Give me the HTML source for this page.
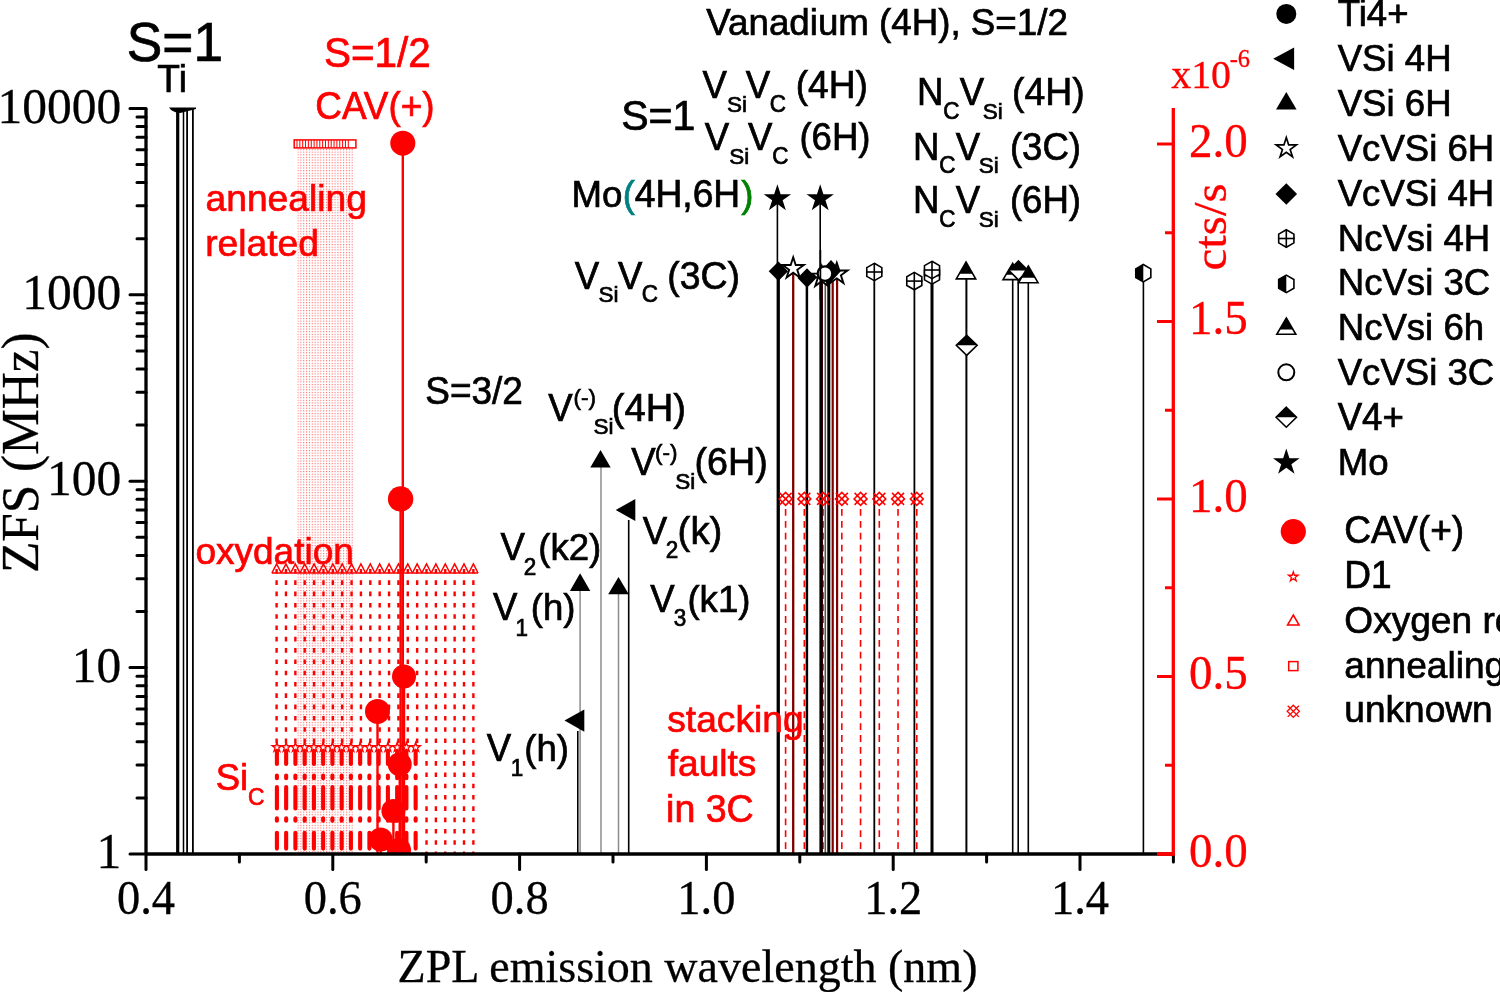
<!DOCTYPE html><html><head><meta charset="utf-8"><style>html,body{margin:0;padding:0;background:#fff;overflow:hidden}svg{display:block;will-change:transform}</style></head><body><svg width="1500" height="992" viewBox="0 0 1500 992"><defs><clipPath id="plotclip"><rect x="146" y="108" width="1027" height="746"/></clipPath><pattern id="pAnn" x="297.5" y="149" width="2.85" height="2.64" patternUnits="userSpaceOnUse">
<rect x="0" y="0" width="1.1" height="1.1" fill="#ff0000" fill-opacity="0.6"/></pattern></defs><rect width="1500" height="992" fill="#fff"/><rect x="297.5" y="148.6" width="55.5" height="705.4" fill="url(#pAnn)"/>
<line x1="276.60" y1="569.00" x2="276.60" y2="745.00" stroke="#ff0000" stroke-width="2.4" stroke-dasharray="4.6 6.7"/>
<line x1="285.97" y1="569.00" x2="285.97" y2="745.00" stroke="#ff0000" stroke-width="2.4" stroke-dasharray="4.6 6.7"/>
<line x1="295.34" y1="569.00" x2="295.34" y2="745.00" stroke="#ff0000" stroke-width="2.4" stroke-dasharray="4.6 6.7"/>
<line x1="304.71" y1="569.00" x2="304.71" y2="745.00" stroke="#ff0000" stroke-width="2.4" stroke-dasharray="4.6 6.7"/>
<line x1="314.08" y1="569.00" x2="314.08" y2="745.00" stroke="#ff0000" stroke-width="2.4" stroke-dasharray="4.6 6.7"/>
<line x1="323.45" y1="569.00" x2="323.45" y2="745.00" stroke="#ff0000" stroke-width="2.4" stroke-dasharray="4.6 6.7"/>
<line x1="332.82" y1="569.00" x2="332.82" y2="745.00" stroke="#ff0000" stroke-width="2.4" stroke-dasharray="4.6 6.7"/>
<line x1="342.19" y1="569.00" x2="342.19" y2="745.00" stroke="#ff0000" stroke-width="2.4" stroke-dasharray="4.6 6.7"/>
<line x1="351.56" y1="569.00" x2="351.56" y2="745.00" stroke="#ff0000" stroke-width="2.4" stroke-dasharray="4.6 6.7"/>
<line x1="360.93" y1="569.00" x2="360.93" y2="745.00" stroke="#ff0000" stroke-width="2.4" stroke-dasharray="4.6 6.7"/>
<line x1="370.30" y1="569.00" x2="370.30" y2="745.00" stroke="#ff0000" stroke-width="2.4" stroke-dasharray="4.6 6.7"/>
<line x1="379.67" y1="569.00" x2="379.67" y2="745.00" stroke="#ff0000" stroke-width="2.4" stroke-dasharray="4.6 6.7"/>
<line x1="389.04" y1="569.00" x2="389.04" y2="745.00" stroke="#ff0000" stroke-width="2.4" stroke-dasharray="4.6 6.7"/>
<line x1="398.41" y1="569.00" x2="398.41" y2="745.00" stroke="#ff0000" stroke-width="2.4" stroke-dasharray="4.6 6.7"/>
<line x1="407.78" y1="569.00" x2="407.78" y2="745.00" stroke="#ff0000" stroke-width="2.4" stroke-dasharray="4.6 6.7"/>
<line x1="417.15" y1="569.00" x2="417.15" y2="745.00" stroke="#ff0000" stroke-width="2.4" stroke-dasharray="4.6 6.7"/>
<line x1="426.52" y1="569.00" x2="426.52" y2="854.00" stroke="#ff0000" stroke-width="2.4" stroke-dasharray="4.6 6.7"/>
<line x1="435.89" y1="569.00" x2="435.89" y2="854.00" stroke="#ff0000" stroke-width="2.4" stroke-dasharray="4.6 6.7"/>
<line x1="445.26" y1="569.00" x2="445.26" y2="854.00" stroke="#ff0000" stroke-width="2.4" stroke-dasharray="4.6 6.7"/>
<line x1="454.63" y1="569.00" x2="454.63" y2="854.00" stroke="#ff0000" stroke-width="2.4" stroke-dasharray="4.6 6.7"/>
<line x1="464.00" y1="569.00" x2="464.00" y2="854.00" stroke="#ff0000" stroke-width="2.4" stroke-dasharray="4.6 6.7"/>
<line x1="473.37" y1="569.00" x2="473.37" y2="854.00" stroke="#ff0000" stroke-width="2.4" stroke-dasharray="4.6 6.7"/>
<path d="M276.90,750.2 V763.9 M276.90,775.6 V778.2 M276.90,787 V808.4 M276.90,818.4 V820.8 M276.90,832.8 V848.6" stroke="#ff0000" stroke-width="4.1" stroke-linecap="round" fill="none"/>
<path d="M286.15,750.2 V763.9 M286.15,775.6 V778.2 M286.15,787 V808.4 M286.15,818.4 V820.8 M286.15,832.8 V848.6" stroke="#ff0000" stroke-width="4.1" stroke-linecap="round" fill="none"/>
<path d="M295.40,750.2 V763.9 M295.40,775.6 V778.2 M295.40,787 V808.4 M295.40,818.4 V820.8 M295.40,832.8 V848.6" stroke="#ff0000" stroke-width="4.1" stroke-linecap="round" fill="none"/>
<path d="M304.65,750.2 V763.9 M304.65,775.6 V778.2 M304.65,787 V808.4 M304.65,818.4 V820.8 M304.65,832.8 V848.6" stroke="#ff0000" stroke-width="4.1" stroke-linecap="round" fill="none"/>
<path d="M313.90,750.2 V763.9 M313.90,775.6 V778.2 M313.90,787 V808.4 M313.90,818.4 V820.8 M313.90,832.8 V848.6" stroke="#ff0000" stroke-width="4.1" stroke-linecap="round" fill="none"/>
<path d="M323.15,750.2 V763.9 M323.15,775.6 V778.2 M323.15,787 V808.4 M323.15,818.4 V820.8 M323.15,832.8 V848.6" stroke="#ff0000" stroke-width="4.1" stroke-linecap="round" fill="none"/>
<path d="M332.40,750.2 V763.9 M332.40,775.6 V778.2 M332.40,787 V808.4 M332.40,818.4 V820.8 M332.40,832.8 V848.6" stroke="#ff0000" stroke-width="4.1" stroke-linecap="round" fill="none"/>
<path d="M341.65,750.2 V763.9 M341.65,775.6 V778.2 M341.65,787 V808.4 M341.65,818.4 V820.8 M341.65,832.8 V848.6" stroke="#ff0000" stroke-width="4.1" stroke-linecap="round" fill="none"/>
<path d="M350.90,750.2 V763.9 M350.90,775.6 V778.2 M350.90,787 V808.4 M350.90,818.4 V820.8 M350.90,832.8 V848.6" stroke="#ff0000" stroke-width="4.1" stroke-linecap="round" fill="none"/>
<path d="M360.15,750.2 V763.9 M360.15,775.6 V778.2 M360.15,787 V808.4 M360.15,818.4 V820.8 M360.15,832.8 V848.6" stroke="#ff0000" stroke-width="4.1" stroke-linecap="round" fill="none"/>
<path d="M369.40,750.2 V763.9 M369.40,775.6 V778.2 M369.40,787 V808.4 M369.40,818.4 V820.8 M369.40,832.8 V848.6" stroke="#ff0000" stroke-width="4.1" stroke-linecap="round" fill="none"/>
<path d="M378.65,750.2 V763.9 M378.65,775.6 V778.2 M378.65,787 V808.4 M378.65,818.4 V820.8 M378.65,832.8 V848.6" stroke="#ff0000" stroke-width="4.1" stroke-linecap="round" fill="none"/>
<path d="M387.90,750.2 V763.9 M387.90,775.6 V778.2 M387.90,787 V808.4 M387.90,818.4 V820.8 M387.90,832.8 V848.6" stroke="#ff0000" stroke-width="4.1" stroke-linecap="round" fill="none"/>
<path d="M397.15,750.2 V763.9 M397.15,775.6 V778.2 M397.15,787 V808.4 M397.15,818.4 V820.8 M397.15,832.8 V848.6" stroke="#ff0000" stroke-width="4.1" stroke-linecap="round" fill="none"/>
<path d="M406.40,750.2 V763.9 M406.40,775.6 V778.2 M406.40,787 V808.4 M406.40,818.4 V820.8 M406.40,832.8 V848.6" stroke="#ff0000" stroke-width="4.1" stroke-linecap="round" fill="none"/>
<path d="M415.65,750.2 V763.9 M415.65,775.6 V778.2 M415.65,787 V808.4 M415.65,818.4 V820.8 M415.65,832.8 V848.6" stroke="#ff0000" stroke-width="4.1" stroke-linecap="round" fill="none"/>
<line x1="785.60" y1="509.00" x2="785.60" y2="854.00" stroke="#ff0000" stroke-width="1.6" stroke-dasharray="6.8 5.1"/>
<line x1="804.34" y1="509.00" x2="804.34" y2="854.00" stroke="#ff0000" stroke-width="1.6" stroke-dasharray="6.8 5.1"/>
<line x1="823.08" y1="509.00" x2="823.08" y2="854.00" stroke="#ff0000" stroke-width="1.6" stroke-dasharray="6.8 5.1"/>
<line x1="841.82" y1="509.00" x2="841.82" y2="854.00" stroke="#ff0000" stroke-width="1.6" stroke-dasharray="6.8 5.1"/>
<line x1="860.56" y1="509.00" x2="860.56" y2="854.00" stroke="#ff0000" stroke-width="1.6" stroke-dasharray="6.8 5.1"/>
<line x1="879.30" y1="509.00" x2="879.30" y2="854.00" stroke="#ff0000" stroke-width="1.6" stroke-dasharray="6.8 5.1"/>
<line x1="898.04" y1="509.00" x2="898.04" y2="854.00" stroke="#ff0000" stroke-width="1.6" stroke-dasharray="6.8 5.1"/>
<line x1="916.78" y1="509.00" x2="916.78" y2="854.00" stroke="#ff0000" stroke-width="1.6" stroke-dasharray="6.8 5.1"/>
<line x1="177.70" y1="108.50" x2="177.70" y2="854.00" stroke="#000" stroke-width="3.2" />
<line x1="183.50" y1="108.50" x2="183.50" y2="854.00" stroke="#000" stroke-width="1.5" />
<line x1="187.10" y1="108.50" x2="187.10" y2="854.00" stroke="#000" stroke-width="1.8" />
<line x1="192.90" y1="108.50" x2="192.90" y2="854.00" stroke="#000" stroke-width="1.8" />
<path d="M169,107.6 L196,107.6 L196,109 Q186,111.5 180,113 Q172,112.5 169,107.6 Z" fill="#000"/>
<line x1="580.10" y1="590.00" x2="580.10" y2="854.00" stroke="#8c8c8c" stroke-width="1.5" />
<polygon points="580.10,573.30 590.30,590.90 569.90,590.90" fill="#000" stroke="none" stroke-width="0" stroke-linejoin="miter"/>
<line x1="601.00" y1="467.00" x2="601.00" y2="854.00" stroke="#8c8c8c" stroke-width="1.5" />
<polygon points="600.50,450.00 610.70,467.40 590.30,467.40" fill="#000" stroke="none" stroke-width="0" stroke-linejoin="miter"/>
<line x1="618.50" y1="593.00" x2="618.50" y2="854.00" stroke="#8c8c8c" stroke-width="1.5" />
<polygon points="618.50,577.00 628.80,594.20 608.20,594.20" fill="#000" stroke="none" stroke-width="0" stroke-linejoin="miter"/>
<line x1="628.70" y1="520.00" x2="628.70" y2="854.00" stroke="#000" stroke-width="1.6" />
<polygon points="615.70,510.00 635.30,499.10 635.30,520.90" fill="#000"/>
<line x1="577.80" y1="731.00" x2="577.80" y2="854.00" stroke="#000" stroke-width="1.6" />
<polygon points="564.50,720.60 584.30,709.50 584.30,731.70" fill="#000"/>
<line x1="777.40" y1="197.00" x2="777.40" y2="854.00" stroke="#000" stroke-width="1.6" />
<line x1="778.60" y1="271.00" x2="778.60" y2="854.00" stroke="#000" stroke-width="2.6" />
<line x1="793.20" y1="268.00" x2="793.20" y2="854.00" stroke="#800000" stroke-width="2.3" />
<line x1="806.90" y1="278.00" x2="806.90" y2="854.00" stroke="#000" stroke-width="2.5" />
<line x1="820.20" y1="197.00" x2="820.20" y2="854.00" stroke="#000" stroke-width="1.6" />
<line x1="821.90" y1="273.00" x2="821.90" y2="854.00" stroke="#800000" stroke-width="2.2" />
<line x1="821.40" y1="280.00" x2="821.40" y2="854.00" stroke="#000" stroke-width="2.4" />
<line x1="825.30" y1="273.00" x2="825.30" y2="854.00" stroke="#555" stroke-width="1.6" />
<line x1="828.80" y1="273.00" x2="828.80" y2="854.00" stroke="#000" stroke-width="3.0" />
<line x1="832.70" y1="268.00" x2="832.70" y2="854.00" stroke="#800000" stroke-width="2.2" />
<line x1="837.10" y1="273.00" x2="837.10" y2="854.00" stroke="#800000" stroke-width="2.2" />
<line x1="874.30" y1="272.00" x2="874.30" y2="854.00" stroke="#000" stroke-width="1.8" />
<line x1="914.40" y1="281.00" x2="914.40" y2="854.00" stroke="#000" stroke-width="1.8" />
<line x1="932.00" y1="272.00" x2="932.00" y2="854.00" stroke="#000" stroke-width="3.0" />
<line x1="966.40" y1="270.00" x2="966.40" y2="854.00" stroke="#000" stroke-width="2.0" />
<line x1="1012.70" y1="270.00" x2="1012.70" y2="854.00" stroke="#000" stroke-width="1.6" />
<line x1="1018.20" y1="275.00" x2="1018.20" y2="854.00" stroke="#000" stroke-width="1.6" />
<line x1="1028.30" y1="275.00" x2="1028.30" y2="854.00" stroke="#000" stroke-width="1.6" />
<line x1="1143.40" y1="273.00" x2="1143.40" y2="854.00" stroke="#000" stroke-width="1.6" />
<polygon points="777.40,184.20 780.63,194.15 791.10,194.15 782.63,200.30 785.86,210.25 777.40,204.10 768.94,210.25 772.17,200.30 763.70,194.15 774.17,194.15" fill="#000" stroke="none" stroke-width="0" stroke-linejoin="miter"/>
<polygon points="820.20,184.20 823.43,194.15 833.90,194.15 825.43,200.30 828.66,210.25 820.20,204.10 811.74,210.25 814.97,200.30 806.50,194.15 816.97,194.15" fill="#000" stroke="none" stroke-width="0" stroke-linejoin="miter"/>
<polygon points="778.40,261.60 788.10,271.30 778.40,281.00 768.70,271.30" fill="#000" stroke="none" stroke-width="0"/>
<polygon points="793.20,257.30 795.71,265.04 803.85,265.04 797.27,269.82 799.78,277.56 793.20,272.78 786.62,277.56 789.13,269.82 782.55,265.04 790.69,265.04" fill="#fff" stroke="#000" stroke-width="1.9" stroke-linejoin="miter"/>
<polygon points="807.00,268.30 816.50,278.00 807.00,287.70 797.50,278.00" fill="#000" stroke="none" stroke-width="0"/>
<polygon points="821.70,266.00 824.17,273.60 832.16,273.60 825.70,278.30 828.17,285.90 821.70,281.20 815.23,285.90 817.70,278.30 811.24,273.60 819.23,273.60" fill="#fff" stroke="#000" stroke-width="1.9" stroke-linejoin="miter"/>
<polygon points="836.80,262.70 839.34,270.51 847.55,270.51 840.91,275.33 843.44,283.14 836.80,278.32 830.16,283.14 832.69,275.33 826.05,270.51 834.26,270.51" fill="#fff" stroke="#000" stroke-width="1.9" stroke-linejoin="miter"/>
<polygon points="831.00,260.00 841.00,271.00 831.00,282.00 821.00,271.00" fill="#000" stroke="none" stroke-width="0"/>
<circle cx="825.00" cy="273.60" r="7.3" fill="#fff" stroke="#000" stroke-width="2.3"/>
<line x1="820.40" y1="250.00" x2="820.40" y2="300.00" stroke="#000" stroke-width="1.7" />
<polygon points="874.30,263.30 881.83,267.65 881.83,276.35 874.30,280.70 866.77,276.35 866.77,267.65" fill="#fff" stroke="#000" stroke-width="1.6"/>
<line x1="874.30" y1="263.30" x2="874.30" y2="280.70" stroke="#000" stroke-width="1.6" />
<line x1="866.03" y1="272.00" x2="882.56" y2="272.00" stroke="#000" stroke-width="1.6" />
<polygon points="914.30,272.40 921.83,276.75 921.83,285.45 914.30,289.80 906.77,285.45 906.77,276.75" fill="#fff" stroke="#000" stroke-width="1.6"/>
<line x1="914.30" y1="272.40" x2="914.30" y2="289.80" stroke="#000" stroke-width="1.6" />
<line x1="906.03" y1="281.10" x2="922.56" y2="281.10" stroke="#000" stroke-width="1.6" />
<polygon points="932.00,266.80 939.53,271.15 939.53,279.85 932.00,284.20 924.47,279.85 924.47,271.15" fill="#fff" stroke="#000" stroke-width="1.6"/>
<line x1="932.00" y1="266.80" x2="932.00" y2="284.20" stroke="#000" stroke-width="1.6" />
<line x1="923.74" y1="275.50" x2="940.26" y2="275.50" stroke="#000" stroke-width="1.6" />
<polygon points="932.00,261.30 939.53,265.65 939.53,274.35 932.00,278.70 924.47,274.35 924.47,265.65" fill="#fff" stroke="#000" stroke-width="1.6"/>
<line x1="932.00" y1="261.30" x2="932.00" y2="278.70" stroke="#000" stroke-width="1.6" />
<line x1="923.74" y1="270.00" x2="940.26" y2="270.00" stroke="#000" stroke-width="1.6" />
<polygon points="966.00,262.00 975.70,278.90 956.30,278.90" fill="#fff" stroke="#000" stroke-width="1.6" stroke-linejoin="miter"/>
<polygon points="966.00,262.00 972.79,273.83 959.21,273.83" fill="#000"/>
<polygon points="966.70,335.30 977.10,345.30 966.70,355.30 956.30,345.30" fill="#fff" stroke="#000" stroke-width="1.6"/>
<polygon points="966.70,335.30 977.10,345.30 956.30,345.30" fill="#000"/>
<polygon points="1012.70,263.30 1022.40,279.60 1003.00,279.60" fill="#fff" stroke="#000" stroke-width="1.6" stroke-linejoin="miter"/>
<polygon points="1012.70,263.30 1019.49,274.71 1005.91,274.71" fill="#000"/>
<polygon points="1018.50,261.00 1028.00,270.50 1018.50,280.00 1009.00,270.50" fill="#fff" stroke="#000" stroke-width="1.6"/>
<polygon points="1018.50,261.00 1028.00,270.50 1009.00,270.50" fill="#000"/>
<polygon points="1028.30,266.00 1038.00,282.70 1018.60,282.70" fill="#fff" stroke="#000" stroke-width="1.6" stroke-linejoin="miter"/>
<polygon points="1028.30,266.00 1035.09,277.69 1021.51,277.69" fill="#000"/>
<polygon points="1143.30,264.50 1150.83,268.85 1150.83,277.55 1143.30,281.90 1135.77,277.55 1135.77,268.85" fill="#fff" stroke="#000" stroke-width="1.6"/>
<polygon points="1143.30,264.50 1135.77,268.85 1135.77,277.55 1143.30,281.90" fill="#000"/>
<g clip-path="url(#plotclip)">
<line x1="402.80" y1="143.20" x2="402.80" y2="854.00" stroke="#ff0000" stroke-width="2.4" />
<line x1="400.60" y1="498.90" x2="400.60" y2="854.00" stroke="#ff0000" stroke-width="2.4" />
<line x1="404.00" y1="676.50" x2="404.00" y2="854.00" stroke="#ff0000" stroke-width="2.4" />
<line x1="377.50" y1="711.40" x2="377.50" y2="854.00" stroke="#ff0000" stroke-width="2.4" />
<line x1="399.70" y1="764.30" x2="399.70" y2="854.00" stroke="#ff0000" stroke-width="2.4" />
<line x1="393.40" y1="810.90" x2="393.40" y2="854.00" stroke="#ff0000" stroke-width="2.4" />
<line x1="380.70" y1="839.50" x2="380.70" y2="854.00" stroke="#ff0000" stroke-width="2.4" />
<line x1="399.00" y1="850.00" x2="399.00" y2="854.00" stroke="#ff0000" stroke-width="2.4" />
<circle cx="402.80" cy="143.20" r="12.5" fill="#ff0000" stroke="none" stroke-width="0"/>
<circle cx="400.60" cy="498.90" r="12.7" fill="#ff0000" stroke="none" stroke-width="0"/>
<circle cx="404.00" cy="676.50" r="12.0" fill="#ff0000" stroke="none" stroke-width="0"/>
<circle cx="377.50" cy="711.40" r="12.5" fill="#ff0000" stroke="none" stroke-width="0"/>
<circle cx="399.70" cy="764.30" r="12.0" fill="#ff0000" stroke="none" stroke-width="0"/>
<circle cx="393.40" cy="810.90" r="12.0" fill="#ff0000" stroke="none" stroke-width="0"/>
<circle cx="380.70" cy="839.50" r="12.0" fill="#ff0000" stroke="none" stroke-width="0"/>
<circle cx="399.00" cy="850.00" r="12.0" fill="#ff0000" stroke="none" stroke-width="0"/>
</g>
<rect x="294.2" y="139.9" width="61.7" height="8.0" fill="none" stroke="#ff0000" stroke-width="1.5"/>
<line x1="297.00" y1="140.00" x2="297.00" y2="148.00" stroke="#ff0000" stroke-width="1.0" />
<line x1="299.85" y1="140.00" x2="299.85" y2="148.00" stroke="#ff0000" stroke-width="1.0" />
<line x1="302.70" y1="140.00" x2="302.70" y2="148.00" stroke="#ff0000" stroke-width="1.0" />
<line x1="305.55" y1="140.00" x2="305.55" y2="148.00" stroke="#ff0000" stroke-width="1.0" />
<line x1="308.40" y1="140.00" x2="308.40" y2="148.00" stroke="#ff0000" stroke-width="1.0" />
<line x1="311.25" y1="140.00" x2="311.25" y2="148.00" stroke="#ff0000" stroke-width="1.0" />
<line x1="314.10" y1="140.00" x2="314.10" y2="148.00" stroke="#ff0000" stroke-width="1.0" />
<line x1="316.95" y1="140.00" x2="316.95" y2="148.00" stroke="#ff0000" stroke-width="1.0" />
<line x1="319.80" y1="140.00" x2="319.80" y2="148.00" stroke="#ff0000" stroke-width="1.0" />
<line x1="322.65" y1="140.00" x2="322.65" y2="148.00" stroke="#ff0000" stroke-width="1.0" />
<line x1="325.50" y1="140.00" x2="325.50" y2="148.00" stroke="#ff0000" stroke-width="1.0" />
<line x1="328.35" y1="140.00" x2="328.35" y2="148.00" stroke="#ff0000" stroke-width="1.0" />
<line x1="331.20" y1="140.00" x2="331.20" y2="148.00" stroke="#ff0000" stroke-width="1.0" />
<line x1="334.05" y1="140.00" x2="334.05" y2="148.00" stroke="#ff0000" stroke-width="1.0" />
<line x1="336.90" y1="140.00" x2="336.90" y2="148.00" stroke="#ff0000" stroke-width="1.0" />
<line x1="339.75" y1="140.00" x2="339.75" y2="148.00" stroke="#ff0000" stroke-width="1.0" />
<line x1="342.60" y1="140.00" x2="342.60" y2="148.00" stroke="#ff0000" stroke-width="1.0" />
<line x1="345.45" y1="140.00" x2="345.45" y2="148.00" stroke="#ff0000" stroke-width="1.0" />
<line x1="348.30" y1="140.00" x2="348.30" y2="148.00" stroke="#ff0000" stroke-width="1.0" />
<polyline points="271.90,573.0 276.60,563.8 281.30,573.0" fill="none" stroke="#ff0000" stroke-width="1.5"/>
<polyline points="281.27,573.0 285.97,563.8 290.67,573.0" fill="none" stroke="#ff0000" stroke-width="1.5"/>
<polyline points="290.64,573.0 295.34,563.8 300.04,573.0" fill="none" stroke="#ff0000" stroke-width="1.5"/>
<polyline points="300.01,573.0 304.71,563.8 309.41,573.0" fill="none" stroke="#ff0000" stroke-width="1.5"/>
<polyline points="309.38,573.0 314.08,563.8 318.78,573.0" fill="none" stroke="#ff0000" stroke-width="1.5"/>
<polyline points="318.75,573.0 323.45,563.8 328.15,573.0" fill="none" stroke="#ff0000" stroke-width="1.5"/>
<polyline points="328.12,573.0 332.82,563.8 337.52,573.0" fill="none" stroke="#ff0000" stroke-width="1.5"/>
<polyline points="337.49,573.0 342.19,563.8 346.89,573.0" fill="none" stroke="#ff0000" stroke-width="1.5"/>
<polyline points="346.86,573.0 351.56,563.8 356.26,573.0" fill="none" stroke="#ff0000" stroke-width="1.5"/>
<polyline points="356.23,573.0 360.93,563.8 365.63,573.0" fill="none" stroke="#ff0000" stroke-width="1.5"/>
<polyline points="365.60,573.0 370.30,563.8 375.00,573.0" fill="none" stroke="#ff0000" stroke-width="1.5"/>
<polyline points="374.97,573.0 379.67,563.8 384.37,573.0" fill="none" stroke="#ff0000" stroke-width="1.5"/>
<polyline points="384.34,573.0 389.04,563.8 393.74,573.0" fill="none" stroke="#ff0000" stroke-width="1.5"/>
<polyline points="393.71,573.0 398.41,563.8 403.11,573.0" fill="none" stroke="#ff0000" stroke-width="1.5"/>
<polyline points="403.08,573.0 407.78,563.8 412.48,573.0" fill="none" stroke="#ff0000" stroke-width="1.5"/>
<polyline points="412.45,573.0 417.15,563.8 421.85,573.0" fill="none" stroke="#ff0000" stroke-width="1.5"/>
<polyline points="421.82,573.0 426.52,563.8 431.22,573.0" fill="none" stroke="#ff0000" stroke-width="1.5"/>
<polyline points="431.19,573.0 435.89,563.8 440.59,573.0" fill="none" stroke="#ff0000" stroke-width="1.5"/>
<polyline points="440.56,573.0 445.26,563.8 449.96,573.0" fill="none" stroke="#ff0000" stroke-width="1.5"/>
<polyline points="449.93,573.0 454.63,563.8 459.33,573.0" fill="none" stroke="#ff0000" stroke-width="1.5"/>
<polyline points="459.30,573.0 464.00,563.8 468.70,573.0" fill="none" stroke="#ff0000" stroke-width="1.5"/>
<polyline points="468.67,573.0 473.37,563.8 478.07,573.0" fill="none" stroke="#ff0000" stroke-width="1.5"/>
<line x1="271.90" y1="573.00" x2="478.00" y2="573.00" stroke="#ff0000" stroke-width="1.5" />
<polygon points="276.90,742.30 278.02,745.75 281.66,745.75 278.72,747.89 279.84,751.35 276.90,749.21 273.96,751.35 275.08,747.89 272.14,745.75 275.78,745.75" fill="#fff" stroke="#ff0000" stroke-width="1.3" stroke-linejoin="miter"/>
<polygon points="286.15,742.30 287.27,745.75 290.91,745.75 287.97,747.89 289.09,751.35 286.15,749.21 283.21,751.35 284.33,747.89 281.39,745.75 285.03,745.75" fill="#fff" stroke="#ff0000" stroke-width="1.3" stroke-linejoin="miter"/>
<polygon points="295.40,742.30 296.52,745.75 300.16,745.75 297.22,747.89 298.34,751.35 295.40,749.21 292.46,751.35 293.58,747.89 290.64,745.75 294.28,745.75" fill="#fff" stroke="#ff0000" stroke-width="1.3" stroke-linejoin="miter"/>
<polygon points="304.65,742.30 305.77,745.75 309.41,745.75 306.47,747.89 307.59,751.35 304.65,749.21 301.71,751.35 302.83,747.89 299.89,745.75 303.53,745.75" fill="#fff" stroke="#ff0000" stroke-width="1.3" stroke-linejoin="miter"/>
<polygon points="313.90,742.30 315.02,745.75 318.66,745.75 315.72,747.89 316.84,751.35 313.90,749.21 310.96,751.35 312.08,747.89 309.14,745.75 312.78,745.75" fill="#fff" stroke="#ff0000" stroke-width="1.3" stroke-linejoin="miter"/>
<polygon points="323.15,742.30 324.27,745.75 327.91,745.75 324.97,747.89 326.09,751.35 323.15,749.21 320.21,751.35 321.33,747.89 318.39,745.75 322.03,745.75" fill="#fff" stroke="#ff0000" stroke-width="1.3" stroke-linejoin="miter"/>
<polygon points="332.40,742.30 333.52,745.75 337.16,745.75 334.22,747.89 335.34,751.35 332.40,749.21 329.46,751.35 330.58,747.89 327.64,745.75 331.28,745.75" fill="#fff" stroke="#ff0000" stroke-width="1.3" stroke-linejoin="miter"/>
<polygon points="341.65,742.30 342.77,745.75 346.41,745.75 343.47,747.89 344.59,751.35 341.65,749.21 338.71,751.35 339.83,747.89 336.89,745.75 340.53,745.75" fill="#fff" stroke="#ff0000" stroke-width="1.3" stroke-linejoin="miter"/>
<polygon points="350.90,742.30 352.02,745.75 355.66,745.75 352.72,747.89 353.84,751.35 350.90,749.21 347.96,751.35 349.08,747.89 346.14,745.75 349.78,745.75" fill="#fff" stroke="#ff0000" stroke-width="1.3" stroke-linejoin="miter"/>
<polygon points="360.15,742.30 361.27,745.75 364.91,745.75 361.97,747.89 363.09,751.35 360.15,749.21 357.21,751.35 358.33,747.89 355.39,745.75 359.03,745.75" fill="#fff" stroke="#ff0000" stroke-width="1.3" stroke-linejoin="miter"/>
<polygon points="369.40,742.30 370.52,745.75 374.16,745.75 371.22,747.89 372.34,751.35 369.40,749.21 366.46,751.35 367.58,747.89 364.64,745.75 368.28,745.75" fill="#fff" stroke="#ff0000" stroke-width="1.3" stroke-linejoin="miter"/>
<polygon points="378.65,742.30 379.77,745.75 383.41,745.75 380.47,747.89 381.59,751.35 378.65,749.21 375.71,751.35 376.83,747.89 373.89,745.75 377.53,745.75" fill="#fff" stroke="#ff0000" stroke-width="1.3" stroke-linejoin="miter"/>
<polygon points="387.90,742.30 389.02,745.75 392.66,745.75 389.72,747.89 390.84,751.35 387.90,749.21 384.96,751.35 386.08,747.89 383.14,745.75 386.78,745.75" fill="#fff" stroke="#ff0000" stroke-width="1.3" stroke-linejoin="miter"/>
<polygon points="397.15,742.30 398.27,745.75 401.91,745.75 398.97,747.89 400.09,751.35 397.15,749.21 394.21,751.35 395.33,747.89 392.39,745.75 396.03,745.75" fill="#fff" stroke="#ff0000" stroke-width="1.3" stroke-linejoin="miter"/>
<polygon points="406.40,742.30 407.52,745.75 411.16,745.75 408.22,747.89 409.34,751.35 406.40,749.21 403.46,751.35 404.58,747.89 401.64,745.75 405.28,745.75" fill="#fff" stroke="#ff0000" stroke-width="1.3" stroke-linejoin="miter"/>
<polygon points="415.65,742.30 416.77,745.75 420.41,745.75 417.47,747.89 418.59,751.35 415.65,749.21 412.71,751.35 413.83,747.89 410.89,745.75 414.53,745.75" fill="#fff" stroke="#ff0000" stroke-width="1.3" stroke-linejoin="miter"/>
<path d="M779.60,492.90 L791.60,504.90 M791.60,492.90 L779.60,504.90 M785.60,492.40 L792.10,498.90 L785.60,505.40 L779.10,498.90 Z" fill="none" stroke="#ff0000" stroke-width="1.5"/>
<path d="M798.34,492.90 L810.34,504.90 M810.34,492.90 L798.34,504.90 M804.34,492.40 L810.84,498.90 L804.34,505.40 L797.84,498.90 Z" fill="none" stroke="#ff0000" stroke-width="1.5"/>
<path d="M817.08,492.90 L829.08,504.90 M829.08,492.90 L817.08,504.90 M823.08,492.40 L829.58,498.90 L823.08,505.40 L816.58,498.90 Z" fill="none" stroke="#ff0000" stroke-width="1.5"/>
<path d="M835.82,492.90 L847.82,504.90 M847.82,492.90 L835.82,504.90 M841.82,492.40 L848.32,498.90 L841.82,505.40 L835.32,498.90 Z" fill="none" stroke="#ff0000" stroke-width="1.5"/>
<path d="M854.56,492.90 L866.56,504.90 M866.56,492.90 L854.56,504.90 M860.56,492.40 L867.06,498.90 L860.56,505.40 L854.06,498.90 Z" fill="none" stroke="#ff0000" stroke-width="1.5"/>
<path d="M873.30,492.90 L885.30,504.90 M885.30,492.90 L873.30,504.90 M879.30,492.40 L885.80,498.90 L879.30,505.40 L872.80,498.90 Z" fill="none" stroke="#ff0000" stroke-width="1.5"/>
<path d="M892.04,492.90 L904.04,504.90 M904.04,492.90 L892.04,504.90 M898.04,492.40 L904.54,498.90 L898.04,505.40 L891.54,498.90 Z" fill="none" stroke="#ff0000" stroke-width="1.5"/>
<path d="M910.78,492.90 L922.78,504.90 M922.78,492.90 L910.78,504.90 M916.78,492.40 L923.28,498.90 L916.78,505.40 L910.28,498.90 Z" fill="none" stroke="#ff0000" stroke-width="1.5"/>
<path d="M146,108.5 V854" stroke="#000" stroke-width="3.3" fill="none"/>
<path d="M146,854 H1173.3" stroke="#000" stroke-width="3.3" fill="none"/>
<line x1="130.00" y1="854.00" x2="146.00" y2="854.00" stroke="#000" stroke-width="3.0" stroke-linecap="round"/>
<line x1="137.00" y1="797.89" x2="146.00" y2="797.89" stroke="#000" stroke-width="3.0" stroke-linecap="round"/>
<line x1="137.00" y1="765.06" x2="146.00" y2="765.06" stroke="#000" stroke-width="3.0" stroke-linecap="round"/>
<line x1="137.00" y1="741.78" x2="146.00" y2="741.78" stroke="#000" stroke-width="3.0" stroke-linecap="round"/>
<line x1="137.00" y1="723.71" x2="146.00" y2="723.71" stroke="#000" stroke-width="3.0" stroke-linecap="round"/>
<line x1="137.00" y1="708.95" x2="146.00" y2="708.95" stroke="#000" stroke-width="3.0" stroke-linecap="round"/>
<line x1="137.00" y1="696.47" x2="146.00" y2="696.47" stroke="#000" stroke-width="3.0" stroke-linecap="round"/>
<line x1="137.00" y1="685.66" x2="146.00" y2="685.66" stroke="#000" stroke-width="3.0" stroke-linecap="round"/>
<line x1="137.00" y1="676.13" x2="146.00" y2="676.13" stroke="#000" stroke-width="3.0" stroke-linecap="round"/>
<line x1="130.00" y1="667.60" x2="146.00" y2="667.60" stroke="#000" stroke-width="3.0" stroke-linecap="round"/>
<line x1="137.00" y1="611.49" x2="146.00" y2="611.49" stroke="#000" stroke-width="3.0" stroke-linecap="round"/>
<line x1="137.00" y1="578.66" x2="146.00" y2="578.66" stroke="#000" stroke-width="3.0" stroke-linecap="round"/>
<line x1="137.00" y1="555.38" x2="146.00" y2="555.38" stroke="#000" stroke-width="3.0" stroke-linecap="round"/>
<line x1="137.00" y1="537.31" x2="146.00" y2="537.31" stroke="#000" stroke-width="3.0" stroke-linecap="round"/>
<line x1="137.00" y1="522.55" x2="146.00" y2="522.55" stroke="#000" stroke-width="3.0" stroke-linecap="round"/>
<line x1="137.00" y1="510.07" x2="146.00" y2="510.07" stroke="#000" stroke-width="3.0" stroke-linecap="round"/>
<line x1="137.00" y1="499.26" x2="146.00" y2="499.26" stroke="#000" stroke-width="3.0" stroke-linecap="round"/>
<line x1="137.00" y1="489.73" x2="146.00" y2="489.73" stroke="#000" stroke-width="3.0" stroke-linecap="round"/>
<line x1="130.00" y1="481.20" x2="146.00" y2="481.20" stroke="#000" stroke-width="3.0" stroke-linecap="round"/>
<line x1="137.00" y1="425.09" x2="146.00" y2="425.09" stroke="#000" stroke-width="3.0" stroke-linecap="round"/>
<line x1="137.00" y1="392.26" x2="146.00" y2="392.26" stroke="#000" stroke-width="3.0" stroke-linecap="round"/>
<line x1="137.00" y1="368.98" x2="146.00" y2="368.98" stroke="#000" stroke-width="3.0" stroke-linecap="round"/>
<line x1="137.00" y1="350.91" x2="146.00" y2="350.91" stroke="#000" stroke-width="3.0" stroke-linecap="round"/>
<line x1="137.00" y1="336.15" x2="146.00" y2="336.15" stroke="#000" stroke-width="3.0" stroke-linecap="round"/>
<line x1="137.00" y1="323.67" x2="146.00" y2="323.67" stroke="#000" stroke-width="3.0" stroke-linecap="round"/>
<line x1="137.00" y1="312.86" x2="146.00" y2="312.86" stroke="#000" stroke-width="3.0" stroke-linecap="round"/>
<line x1="137.00" y1="303.33" x2="146.00" y2="303.33" stroke="#000" stroke-width="3.0" stroke-linecap="round"/>
<line x1="130.00" y1="294.80" x2="146.00" y2="294.80" stroke="#000" stroke-width="3.0" stroke-linecap="round"/>
<line x1="137.00" y1="238.69" x2="146.00" y2="238.69" stroke="#000" stroke-width="3.0" stroke-linecap="round"/>
<line x1="137.00" y1="205.86" x2="146.00" y2="205.86" stroke="#000" stroke-width="3.0" stroke-linecap="round"/>
<line x1="137.00" y1="182.58" x2="146.00" y2="182.58" stroke="#000" stroke-width="3.0" stroke-linecap="round"/>
<line x1="137.00" y1="164.51" x2="146.00" y2="164.51" stroke="#000" stroke-width="3.0" stroke-linecap="round"/>
<line x1="137.00" y1="149.75" x2="146.00" y2="149.75" stroke="#000" stroke-width="3.0" stroke-linecap="round"/>
<line x1="137.00" y1="137.27" x2="146.00" y2="137.27" stroke="#000" stroke-width="3.0" stroke-linecap="round"/>
<line x1="137.00" y1="126.46" x2="146.00" y2="126.46" stroke="#000" stroke-width="3.0" stroke-linecap="round"/>
<line x1="137.00" y1="116.93" x2="146.00" y2="116.93" stroke="#000" stroke-width="3.0" stroke-linecap="round"/>
<line x1="130.00" y1="108.40" x2="146.00" y2="108.40" stroke="#000" stroke-width="3.0" stroke-linecap="round"/>
<line x1="146.00" y1="854.00" x2="146.00" y2="869.50" stroke="#000" stroke-width="3.0" stroke-linecap="round"/>
<line x1="239.40" y1="854.00" x2="239.40" y2="862.00" stroke="#000" stroke-width="3.0" stroke-linecap="round"/>
<line x1="332.80" y1="854.00" x2="332.80" y2="869.50" stroke="#000" stroke-width="3.0" stroke-linecap="round"/>
<line x1="426.20" y1="854.00" x2="426.20" y2="862.00" stroke="#000" stroke-width="3.0" stroke-linecap="round"/>
<line x1="519.60" y1="854.00" x2="519.60" y2="869.50" stroke="#000" stroke-width="3.0" stroke-linecap="round"/>
<line x1="613.00" y1="854.00" x2="613.00" y2="862.00" stroke="#000" stroke-width="3.0" stroke-linecap="round"/>
<line x1="706.40" y1="854.00" x2="706.40" y2="869.50" stroke="#000" stroke-width="3.0" stroke-linecap="round"/>
<line x1="799.80" y1="854.00" x2="799.80" y2="862.00" stroke="#000" stroke-width="3.0" stroke-linecap="round"/>
<line x1="893.20" y1="854.00" x2="893.20" y2="869.50" stroke="#000" stroke-width="3.0" stroke-linecap="round"/>
<line x1="986.60" y1="854.00" x2="986.60" y2="862.00" stroke="#000" stroke-width="3.0" stroke-linecap="round"/>
<line x1="1080.00" y1="854.00" x2="1080.00" y2="869.50" stroke="#000" stroke-width="3.0" stroke-linecap="round"/>
<line x1="1173.40" y1="854.00" x2="1173.40" y2="862.00" stroke="#000" stroke-width="3.0" stroke-linecap="round"/>
<path d="M1173.3,108 V854 H1157" stroke="#ff0000" stroke-width="3.3" fill="none"/>
<line x1="1157.00" y1="854.00" x2="1173.30" y2="854.00" stroke="#ff0000" stroke-width="3.0" />
<line x1="1165.00" y1="765.25" x2="1173.30" y2="765.25" stroke="#ff0000" stroke-width="3.0" />
<line x1="1157.00" y1="676.50" x2="1173.30" y2="676.50" stroke="#ff0000" stroke-width="3.0" />
<line x1="1165.00" y1="587.75" x2="1173.30" y2="587.75" stroke="#ff0000" stroke-width="3.0" />
<line x1="1157.00" y1="499.00" x2="1173.30" y2="499.00" stroke="#ff0000" stroke-width="3.0" />
<line x1="1165.00" y1="410.25" x2="1173.30" y2="410.25" stroke="#ff0000" stroke-width="3.0" />
<line x1="1157.00" y1="321.50" x2="1173.30" y2="321.50" stroke="#ff0000" stroke-width="3.0" />
<line x1="1165.00" y1="232.75" x2="1173.30" y2="232.75" stroke="#ff0000" stroke-width="3.0" />
<line x1="1157.00" y1="144.00" x2="1173.30" y2="144.00" stroke="#ff0000" stroke-width="3.0" />
<text transform="translate(-2.45,122.60) scale(1.0000,1.0400)" font-family='"Liberation Serif", serif' font-size="49.5" fill="#000" stroke="#000" stroke-width="0.3">10000</text>
<text transform="translate(22.30,309.00) scale(1.0000,1.0400)" font-family='"Liberation Serif", serif' font-size="49.5" fill="#000" stroke="#000" stroke-width="0.3">1000</text>
<text transform="translate(47.05,495.40) scale(1.0000,1.0400)" font-family='"Liberation Serif", serif' font-size="49.5" fill="#000" stroke="#000" stroke-width="0.3">100</text>
<text transform="translate(71.80,681.80) scale(1.0000,1.0400)" font-family='"Liberation Serif", serif' font-size="49.5" fill="#000" stroke="#000" stroke-width="0.3">10</text>
<text transform="translate(96.55,868.20) scale(1.0000,1.0400)" font-family='"Liberation Serif", serif' font-size="49.5" fill="#000" stroke="#000" stroke-width="0.3">1</text>
<text transform="translate(116.94,914.00) scale(1.0000,1.0400)" font-family='"Liberation Serif", serif' font-size="46.5" fill="#000" stroke="#000" stroke-width="0.3">0.4</text>
<text transform="translate(303.74,914.00) scale(1.0000,1.0400)" font-family='"Liberation Serif", serif' font-size="46.5" fill="#000" stroke="#000" stroke-width="0.3">0.6</text>
<text transform="translate(490.54,914.00) scale(1.0000,1.0400)" font-family='"Liberation Serif", serif' font-size="46.5" fill="#000" stroke="#000" stroke-width="0.3">0.8</text>
<text transform="translate(677.34,914.00) scale(1.0000,1.0400)" font-family='"Liberation Serif", serif' font-size="46.5" fill="#000" stroke="#000" stroke-width="0.3">1.0</text>
<text transform="translate(864.14,914.00) scale(1.0000,1.0400)" font-family='"Liberation Serif", serif' font-size="46.5" fill="#000" stroke="#000" stroke-width="0.3">1.2</text>
<text transform="translate(1050.94,914.00) scale(1.0000,1.0400)" font-family='"Liberation Serif", serif' font-size="46.5" fill="#000" stroke="#000" stroke-width="0.3">1.4</text>
<text transform="translate(1189.00,866.70) scale(1.0000,1.0400)" font-family='"Liberation Serif", serif' font-size="47" fill="#ff0000" stroke="#ff0000" stroke-width="0.3">0.0</text>
<text transform="translate(1189.00,689.20) scale(1.0000,1.0400)" font-family='"Liberation Serif", serif' font-size="47" fill="#ff0000" stroke="#ff0000" stroke-width="0.3">0.5</text>
<text transform="translate(1189.00,511.70) scale(1.0000,1.0400)" font-family='"Liberation Serif", serif' font-size="47" fill="#ff0000" stroke="#ff0000" stroke-width="0.3">1.0</text>
<text transform="translate(1189.00,334.20) scale(1.0000,1.0400)" font-family='"Liberation Serif", serif' font-size="47" fill="#ff0000" stroke="#ff0000" stroke-width="0.3">1.5</text>
<text transform="translate(1189.00,156.70) scale(1.0000,1.0400)" font-family='"Liberation Serif", serif' font-size="47" fill="#ff0000" stroke="#ff0000" stroke-width="0.3">2.0</text>
<g transform="translate(37.8,570.6) rotate(-90)">
<text transform="translate(-2.45,0.00) scale(0.9861,1.0300)" font-family='"Liberation Serif", serif' font-size="52" fill="#000" stroke="#000" stroke-width="0.3">ZFS (MHz)</text>
</g>
<text transform="translate(397.60,981.70) scale(1.0000,1.0300)" font-family='"Liberation Serif", serif' font-size="46.03" fill="#000" stroke="#000" stroke-width="0.3">ZPL emission wavelength (nm)</text>
<g transform="translate(1226,268.6) rotate(-90)">
<text transform="translate(-1.86,0.00) scale(1.0642,1.0300)" font-family='"Liberation Serif", serif' font-size="46" fill="#ff0000" stroke="#ff0000" stroke-width="0.3">cts/s</text>
</g>
<text transform="translate(1171.25,88.30) scale(1.0000,1.0300)" font-family='"Liberation Serif", serif' font-size="39.85" fill="#ff0000" stroke="#ff0000" stroke-width="0.3">x10</text>
<text transform="translate(1229.69,66.80) scale(1.0000,1.0300)" font-family='"Liberation Serif", serif' font-size="24.41" fill="#ff0000" stroke="#ff0000" stroke-width="0.3">-6</text>
<text transform="translate(706.34,35.20) scale(1.0000,1.0185)" font-family='"Liberation Sans", sans-serif' font-size="36.71" fill="#000" stroke="#000" stroke-width="0.7">Vanadium (4H), S=1/2</text>
<text transform="translate(126.78,61.05) scale(1.0000,1.0400)" font-family='"Liberation Sans", sans-serif' font-size="53.29" fill="#000" stroke="#000" stroke-width="0.7">S=1</text>
<text transform="translate(157.37,92.10) scale(1.0000,1.0200)" font-family='"Liberation Sans", sans-serif' font-size="37.14" fill="#000" stroke="#000" stroke-width="0.7">Ti</text>
<text transform="translate(323.96,66.90) scale(1.0000,1.0400)" font-family='"Liberation Sans", sans-serif' font-size="40.46" fill="#ff0000" stroke="#ff0000" stroke-width="0.7">S=1/2</text>
<text transform="translate(315.33,119.10) scale(1.0000,1.0400)" font-family='"Liberation Sans", sans-serif' font-size="36.89" fill="#ff0000" stroke="#ff0000" stroke-width="0.7">CAV(+)</text>
<text transform="translate(205.52,211.20) scale(1.0000,1.0000)" font-family='"Liberation Sans", sans-serif' font-size="37.2" fill="#ff0000" stroke="#ff0000" stroke-width="0.7">annealing</text>
<text transform="translate(205.23,256.10) scale(1.0000,1.0000)" font-family='"Liberation Sans", sans-serif' font-size="37.2" fill="#ff0000" stroke="#ff0000" stroke-width="0.7">related</text>
<text transform="translate(195.45,563.80) scale(1.0000,1.0000)" font-family='"Liberation Sans", sans-serif' font-size="36.99" fill="#ff0000" stroke="#ff0000" stroke-width="0.7">oxydation</text>
<text transform="translate(215.64,789.80) scale(1.0000,1.0200)" font-family='"Liberation Sans", sans-serif' font-size="36.6" fill="#ff0000" stroke="#ff0000" stroke-width="0.7">Si</text>
<text transform="translate(248.04,804.50) scale(1.0000,1.0400)" font-family='"Liberation Sans", sans-serif' font-size="22.8" fill="#ff0000" stroke="#ff0000" stroke-width="0.7">C</text>
<text transform="translate(425.32,403.70) scale(1.0000,1.0400)" font-family='"Liberation Sans", sans-serif' font-size="36.97" fill="#000" stroke="#000" stroke-width="0.7">S=3/2</text>
<text transform="translate(548.34,420.50) scale(1.0000,1.0400)" font-family='"Liberation Sans", sans-serif' font-size="36.6" fill="#000" stroke="#000" stroke-width="0.7">V</text>
<text transform="translate(573.40,405.00) scale(1.0000,1.0000)" font-family='"Liberation Sans", sans-serif' font-size="22.5" fill="#000" stroke="#000" stroke-width="0.7">(-)</text>
<text transform="translate(593.48,434.00) scale(1.0000,1.0200)" font-family='"Liberation Sans", sans-serif' font-size="22.5" fill="#000" stroke="#000" stroke-width="0.7">Si</text>
<text transform="translate(611.83,420.50) scale(1.0000,1.0400)" font-family='"Liberation Sans", sans-serif' font-size="38.18" fill="#000" stroke="#000" stroke-width="0.7">(4H)</text>
<text transform="translate(631.24,475.00) scale(1.0000,1.0400)" font-family='"Liberation Sans", sans-serif' font-size="36.6" fill="#000" stroke="#000" stroke-width="0.7">V</text>
<text transform="translate(655.10,459.50) scale(1.0000,1.0000)" font-family='"Liberation Sans", sans-serif' font-size="22.5" fill="#000" stroke="#000" stroke-width="0.7">(-)</text>
<text transform="translate(675.18,488.60) scale(1.0000,1.0200)" font-family='"Liberation Sans", sans-serif' font-size="22.5" fill="#000" stroke="#000" stroke-width="0.7">Si</text>
<text transform="translate(694.46,475.00) scale(1.0000,1.0400)" font-family='"Liberation Sans", sans-serif' font-size="37.69" fill="#000" stroke="#000" stroke-width="0.7">(6H)</text>
<text transform="translate(642.74,543.60) scale(1.0000,1.0400)" font-family='"Liberation Sans", sans-serif' font-size="36.6" fill="#000" stroke="#000" stroke-width="0.7">V</text>
<text transform="translate(665.87,558.00) scale(1.0000,1.0400)" font-family='"Liberation Sans", sans-serif' font-size="22.5" fill="#000" stroke="#000" stroke-width="0.7">2</text>
<text transform="translate(677.62,543.60) scale(1.0000,1.0000)" font-family='"Liberation Sans", sans-serif' font-size="38.39" fill="#000" stroke="#000" stroke-width="0.7">(k)</text>
<text transform="translate(500.54,559.60) scale(1.0000,1.0400)" font-family='"Liberation Sans", sans-serif' font-size="36.6" fill="#000" stroke="#000" stroke-width="0.7">V</text>
<text transform="translate(523.67,574.80) scale(1.0000,1.0400)" font-family='"Liberation Sans", sans-serif' font-size="22.5" fill="#000" stroke="#000" stroke-width="0.7">2</text>
<text transform="translate(538.24,559.60) scale(1.0000,1.0200)" font-family='"Liberation Sans", sans-serif' font-size="36.6" fill="#000" stroke="#000" stroke-width="0.7">(k2)</text>
<text transform="translate(493.04,620.10) scale(1.0000,1.0400)" font-family='"Liberation Sans", sans-serif' font-size="36.6" fill="#000" stroke="#000" stroke-width="0.7">V</text>
<text transform="translate(515.55,635.90) scale(1.0000,1.0400)" font-family='"Liberation Sans", sans-serif' font-size="22.5" fill="#000" stroke="#000" stroke-width="0.7">1</text>
<text transform="translate(530.84,620.10) scale(1.0000,1.0000)" font-family='"Liberation Sans", sans-serif' font-size="36.6" fill="#000" stroke="#000" stroke-width="0.7">(h)</text>
<text transform="translate(650.34,611.70) scale(1.0000,1.0400)" font-family='"Liberation Sans", sans-serif' font-size="36.6" fill="#000" stroke="#000" stroke-width="0.7">V</text>
<text transform="translate(673.74,626.20) scale(1.0000,1.0400)" font-family='"Liberation Sans", sans-serif' font-size="22.5" fill="#000" stroke="#000" stroke-width="0.7">3</text>
<text transform="translate(687.44,611.70) scale(1.0000,1.0200)" font-family='"Liberation Sans", sans-serif' font-size="36.6" fill="#000" stroke="#000" stroke-width="0.7">(k1)</text>
<text transform="translate(486.64,760.80) scale(1.0000,1.0400)" font-family='"Liberation Sans", sans-serif' font-size="36.6" fill="#000" stroke="#000" stroke-width="0.7">V</text>
<text transform="translate(510.75,775.50) scale(1.0000,1.0400)" font-family='"Liberation Sans", sans-serif' font-size="22.5" fill="#000" stroke="#000" stroke-width="0.7">1</text>
<text transform="translate(524.34,760.80) scale(1.0000,1.0000)" font-family='"Liberation Sans", sans-serif' font-size="36.6" fill="#000" stroke="#000" stroke-width="0.7">(h)</text>
<text transform="translate(667.26,731.70) scale(1.0000,1.0000)" font-family='"Liberation Sans", sans-serif' font-size="37.19" fill="#ff0000" stroke="#ff0000" stroke-width="0.7">stacking</text>
<text transform="translate(667.77,776.00) scale(1.0000,1.0000)" font-family='"Liberation Sans", sans-serif' font-size="37.1" fill="#ff0000" stroke="#ff0000" stroke-width="0.7">faults</text>
<text transform="translate(666.09,821.50) scale(1.0000,1.0200)" font-family='"Liberation Sans", sans-serif' font-size="37.54" fill="#ff0000" stroke="#ff0000" stroke-width="0.7">in 3C</text>
<text transform="translate(621.14,130.20) scale(1.0000,1.0400)" font-family='"Liberation Sans", sans-serif' font-size="41.06" fill="#000" stroke="#000" stroke-width="0.7">S=1</text>
<text transform="translate(702.54,97.80) scale(1.0000,1.0400)" font-family='"Liberation Sans", sans-serif' font-size="36.6" fill="#000" stroke="#000" stroke-width="0.7">V</text>
<text transform="translate(726.88,111.80) scale(1.0000,1.0200)" font-family='"Liberation Sans", sans-serif' font-size="22.5" fill="#000" stroke="#000" stroke-width="0.7">Si</text>
<text transform="translate(745.74,97.80) scale(1.0000,1.0400)" font-family='"Liberation Sans", sans-serif' font-size="36.6" fill="#000" stroke="#000" stroke-width="0.7">V</text>
<text transform="translate(769.86,111.80) scale(1.0000,1.0400)" font-family='"Liberation Sans", sans-serif' font-size="22.5" fill="#000" stroke="#000" stroke-width="0.7">C</text>
<text transform="translate(795.70,97.80) scale(1.0000,1.0400)" font-family='"Liberation Sans", sans-serif' font-size="37.14" fill="#000" stroke="#000" stroke-width="0.7">(4H)</text>
<text transform="translate(704.84,150.00) scale(1.0000,1.0400)" font-family='"Liberation Sans", sans-serif' font-size="36.6" fill="#000" stroke="#000" stroke-width="0.7">V</text>
<text transform="translate(729.18,164.00) scale(1.0000,1.0200)" font-family='"Liberation Sans", sans-serif' font-size="22.5" fill="#000" stroke="#000" stroke-width="0.7">Si</text>
<text transform="translate(748.04,150.00) scale(1.0000,1.0400)" font-family='"Liberation Sans", sans-serif' font-size="36.6" fill="#000" stroke="#000" stroke-width="0.7">V</text>
<text transform="translate(772.16,164.00) scale(1.0000,1.0400)" font-family='"Liberation Sans", sans-serif' font-size="22.5" fill="#000" stroke="#000" stroke-width="0.7">C</text>
<text transform="translate(799.41,150.00) scale(1.0000,1.0400)" font-family='"Liberation Sans", sans-serif' font-size="36.6" fill="#000" stroke="#000" stroke-width="0.7">(6H)</text>
<text transform="translate(917.00,105.40) scale(1.0000,1.0400)" font-family='"Liberation Sans", sans-serif' font-size="36.6" fill="#000" stroke="#000" stroke-width="0.7">N</text>
<text transform="translate(943.36,119.00) scale(1.0000,1.0400)" font-family='"Liberation Sans", sans-serif' font-size="22.5" fill="#000" stroke="#000" stroke-width="0.7">C</text>
<text transform="translate(959.74,105.40) scale(1.0000,1.0400)" font-family='"Liberation Sans", sans-serif' font-size="36.6" fill="#000" stroke="#000" stroke-width="0.7">V</text>
<text transform="translate(982.78,119.00) scale(1.0000,1.0200)" font-family='"Liberation Sans", sans-serif' font-size="22.5" fill="#000" stroke="#000" stroke-width="0.7">Si</text>
<text transform="translate(1011.98,105.40) scale(1.0000,1.0400)" font-family='"Liberation Sans", sans-serif' font-size="37.41" fill="#000" stroke="#000" stroke-width="0.7">(4H)</text>
<text transform="translate(913.00,159.50) scale(1.0000,1.0400)" font-family='"Liberation Sans", sans-serif' font-size="36.6" fill="#000" stroke="#000" stroke-width="0.7">N</text>
<text transform="translate(939.36,173.40) scale(1.0000,1.0400)" font-family='"Liberation Sans", sans-serif' font-size="22.5" fill="#000" stroke="#000" stroke-width="0.7">C</text>
<text transform="translate(955.74,159.50) scale(1.0000,1.0400)" font-family='"Liberation Sans", sans-serif' font-size="36.6" fill="#000" stroke="#000" stroke-width="0.7">V</text>
<text transform="translate(978.78,173.40) scale(1.0000,1.0200)" font-family='"Liberation Sans", sans-serif' font-size="22.5" fill="#000" stroke="#000" stroke-width="0.7">Si</text>
<text transform="translate(1009.91,159.50) scale(1.0000,1.0400)" font-family='"Liberation Sans", sans-serif' font-size="36.6" fill="#000" stroke="#000" stroke-width="0.7">(3C)</text>
<text transform="translate(913.00,213.40) scale(1.0000,1.0400)" font-family='"Liberation Sans", sans-serif' font-size="36.6" fill="#000" stroke="#000" stroke-width="0.7">N</text>
<text transform="translate(939.36,226.60) scale(1.0000,1.0400)" font-family='"Liberation Sans", sans-serif' font-size="22.5" fill="#000" stroke="#000" stroke-width="0.7">C</text>
<text transform="translate(955.74,213.40) scale(1.0000,1.0400)" font-family='"Liberation Sans", sans-serif' font-size="36.6" fill="#000" stroke="#000" stroke-width="0.7">V</text>
<text transform="translate(978.78,226.60) scale(1.0000,1.0200)" font-family='"Liberation Sans", sans-serif' font-size="22.5" fill="#000" stroke="#000" stroke-width="0.7">Si</text>
<text transform="translate(1009.91,213.40) scale(1.0000,1.0400)" font-family='"Liberation Sans", sans-serif' font-size="36.6" fill="#000" stroke="#000" stroke-width="0.7">(6H)</text>
<text transform="translate(574.64,288.50) scale(1.0000,1.0400)" font-family='"Liberation Sans", sans-serif' font-size="36.6" fill="#000" stroke="#000" stroke-width="0.7">V</text>
<text transform="translate(598.58,302.10) scale(1.0000,1.0200)" font-family='"Liberation Sans", sans-serif' font-size="22.5" fill="#000" stroke="#000" stroke-width="0.7">Si</text>
<text transform="translate(618.04,288.50) scale(1.0000,1.0400)" font-family='"Liberation Sans", sans-serif' font-size="36.6" fill="#000" stroke="#000" stroke-width="0.7">V</text>
<text transform="translate(641.66,302.10) scale(1.0000,1.0400)" font-family='"Liberation Sans", sans-serif' font-size="22.5" fill="#000" stroke="#000" stroke-width="0.7">C</text>
<text transform="translate(667.28,288.50) scale(1.0000,1.0400)" font-family='"Liberation Sans", sans-serif' font-size="37.36" fill="#000" stroke="#000" stroke-width="0.7">(3C)</text>
<text transform="translate(571.40,207.20) scale(1.0000,1.0200)" font-family='"Liberation Sans", sans-serif' font-size="36.6" fill="#000" stroke="#000" stroke-width="0.7">Mo</text>
<text transform="translate(622.73,207.20) scale(1.0000,1.0000)" font-family='"Liberation Sans", sans-serif' font-size="36.6" fill="#008080" stroke="#008080" stroke-width="0.7">(</text>
<text transform="translate(634.75,207.20) scale(1.0000,1.0400)" font-family='"Liberation Sans", sans-serif' font-size="37.22" fill="#000" stroke="#000" stroke-width="0.7">4H,6H</text>
<text transform="translate(741.19,207.20) scale(1.0000,1.0000)" font-family='"Liberation Sans", sans-serif' font-size="36.6" fill="#008000" stroke="#008000" stroke-width="0.7">)</text>
<text transform="translate(1337.70,26.00) scale(1.0000,1.0267)" font-family='"Liberation Sans", sans-serif' font-size="36.6" fill="#000" stroke="#000" stroke-width="0.7">Ti4+</text>
<text transform="translate(1337.70,70.90) scale(1.0000,1.0320)" font-family='"Liberation Sans", sans-serif' font-size="36.6" fill="#000" stroke="#000" stroke-width="0.7">VSi 4H</text>
<text transform="translate(1337.70,115.80) scale(1.0000,1.0320)" font-family='"Liberation Sans", sans-serif' font-size="36.6" fill="#000" stroke="#000" stroke-width="0.7">VSi 6H</text>
<text transform="translate(1337.70,160.70) scale(1.0000,1.0286)" font-family='"Liberation Sans", sans-serif' font-size="36.6" fill="#000" stroke="#000" stroke-width="0.7">VcVSi 6H</text>
<text transform="translate(1337.70,205.60) scale(1.0000,1.0286)" font-family='"Liberation Sans", sans-serif' font-size="36.6" fill="#000" stroke="#000" stroke-width="0.7">VcVSi 4H</text>
<text transform="translate(1337.70,250.50) scale(1.0000,1.0229)" font-family='"Liberation Sans", sans-serif' font-size="36.6" fill="#000" stroke="#000" stroke-width="0.7">NcVsi 4H</text>
<text transform="translate(1337.70,295.40) scale(1.0000,1.0229)" font-family='"Liberation Sans", sans-serif' font-size="36.6" fill="#000" stroke="#000" stroke-width="0.7">NcVsi 3C</text>
<text transform="translate(1337.70,340.30) scale(1.0000,1.0171)" font-family='"Liberation Sans", sans-serif' font-size="36.6" fill="#000" stroke="#000" stroke-width="0.7">NcVsi 6h</text>
<text transform="translate(1337.70,385.20) scale(1.0000,1.0286)" font-family='"Liberation Sans", sans-serif' font-size="36.6" fill="#000" stroke="#000" stroke-width="0.7">VcVSi 3C</text>
<text transform="translate(1337.70,430.10) scale(1.0000,1.0400)" font-family='"Liberation Sans", sans-serif' font-size="36.6" fill="#000" stroke="#000" stroke-width="0.7">V4+</text>
<text transform="translate(1337.70,475.00) scale(1.0000,1.0200)" font-family='"Liberation Sans", sans-serif' font-size="36.6" fill="#000" stroke="#000" stroke-width="0.7">Mo</text>
<text transform="translate(1344.30,543.40) scale(1.0000,1.0400)" font-family='"Liberation Sans", sans-serif' font-size="37.1" fill="#000" stroke="#000" stroke-width="0.7">CAV(+)</text>
<text transform="translate(1344.30,588.15) scale(1.0000,1.0400)" font-family='"Liberation Sans", sans-serif' font-size="37.1" fill="#000" stroke="#000" stroke-width="0.7">D1</text>
<text transform="translate(1344.30,632.90) scale(1.0000,1.0031)" font-family='"Liberation Sans", sans-serif' font-size="37.1" fill="#000" stroke="#000" stroke-width="0.7">Oxygen related</text>
<text transform="translate(1344.30,677.65) scale(1.0000,1.0000)" font-family='"Liberation Sans", sans-serif' font-size="37.1" fill="#000" stroke="#000" stroke-width="0.7">annealing related</text>
<text transform="translate(1344.30,722.40) scale(1.0000,1.0000)" font-family='"Liberation Sans", sans-serif' font-size="37.1" fill="#000" stroke="#000" stroke-width="0.7">unknown</text>
<circle cx="1286.30" cy="13.90" r="10.0" fill="#000" stroke="none" stroke-width="0"/>
<polygon points="1273.20,58.70 1294.10,47.40 1294.10,70.00" fill="#000"/>
<polygon points="1286.30,92.00 1296.60,109.60 1276.00,109.60" fill="#000" stroke="none" stroke-width="0" stroke-linejoin="miter"/>
<polygon points="1286.30,137.60 1288.68,144.92 1296.38,144.92 1290.15,149.45 1292.53,156.78 1286.30,152.25 1280.07,156.78 1282.45,149.45 1276.22,144.92 1283.92,144.92" fill="#fff" stroke="#000" stroke-width="1.7" stroke-linejoin="miter"/>
<polygon points="1286.30,183.20 1297.10,194.00 1286.30,204.80 1275.50,194.00" fill="#000" stroke="none" stroke-width="0"/>
<polygon points="1286.30,229.70 1293.92,234.10 1293.92,242.90 1286.30,247.30 1278.68,242.90 1278.68,234.10" fill="#fff" stroke="#000" stroke-width="1.6"/>
<line x1="1286.30" y1="229.70" x2="1286.30" y2="247.30" stroke="#000" stroke-width="1.6" />
<line x1="1277.94" y1="238.50" x2="1294.66" y2="238.50" stroke="#000" stroke-width="1.6" />
<polygon points="1286.30,275.10 1293.92,279.50 1293.92,288.30 1286.30,292.70 1278.68,288.30 1278.68,279.50" fill="#fff" stroke="#000" stroke-width="1.6"/>
<polygon points="1286.30,275.10 1278.68,279.50 1278.68,288.30 1286.30,292.70" fill="#000"/>
<polygon points="1286.30,318.00 1295.80,334.30 1276.80,334.30" fill="#fff" stroke="#000" stroke-width="1.6" stroke-linejoin="miter"/>
<polygon points="1286.30,318.00 1292.95,329.41 1279.65,329.41" fill="#000"/>
<circle cx="1286.30" cy="372.30" r="8.0" fill="#fff" stroke="#000" stroke-width="2.0"/>
<polygon points="1286.30,407.20 1296.50,417.20 1286.30,427.20 1276.10,417.20" fill="#fff" stroke="#000" stroke-width="1.6"/>
<polygon points="1286.30,407.20 1296.50,417.20 1276.10,417.20" fill="#000"/>
<polygon points="1286.30,448.50 1289.44,458.17 1299.61,458.17 1291.39,464.15 1294.53,473.83 1286.30,467.85 1278.07,473.83 1281.21,464.15 1272.99,458.17 1283.16,458.17" fill="#000" stroke="none" stroke-width="0" stroke-linejoin="miter"/>
<circle cx="1293.30" cy="531.60" r="12.6" fill="#ff0000" stroke="none" stroke-width="0"/>
<polygon points="1293.30,571.80 1294.42,575.25 1298.06,575.25 1295.12,577.39 1296.24,580.85 1293.30,578.71 1290.36,580.85 1291.48,577.39 1288.54,575.25 1292.18,575.25" fill="#fff" stroke="#ff0000" stroke-width="1.3" stroke-linejoin="miter"/>
<polygon points="1293.30,615.00 1299.10,625.00 1287.50,625.00" fill="#fff" stroke="#ff0000" stroke-width="1.5" stroke-linejoin="miter"/>
<rect x="1288.70" y="661.6" width="9.2" height="9.0" fill="none" stroke="#ff0000" stroke-width="1.5"/>
<path d="M1287.70,705.70 L1298.90,716.90 M1298.90,705.70 L1287.70,716.90 M1293.30,705.20 L1299.40,711.30 L1293.30,717.40 L1287.20,711.30 Z" fill="none" stroke="#ff0000" stroke-width="1.3"/></svg></body></html>
